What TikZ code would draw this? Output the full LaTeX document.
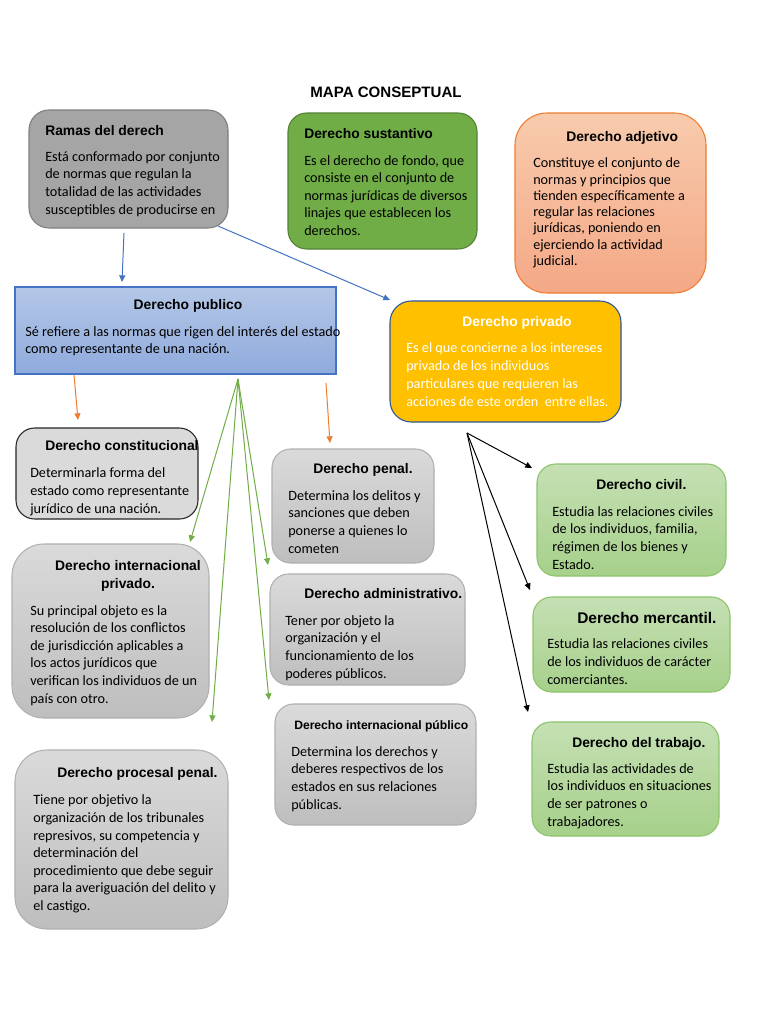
\documentclass[tikz,border=0pt]{standalone}
\usepackage{fontspec}
\setmainfont{Carlito}
\newfontfamily\hdfont{Liberation Sans}
\usetikzlibrary{fit,arrows.meta}
\definecolor{cgrey}{HTML}{A5A5A5}
\definecolor{cgreyb}{HTML}{7F7F7F}
\definecolor{cgreen}{HTML}{70AD47}
\definecolor{cgreenb}{HTML}{548235}
\definecolor{csalt}{HTML}{F8CBAD}
\definecolor{csalb}{HTML}{F4A886}
\definecolor{corange}{HTML}{ED7D31}
\definecolor{cbluet}{HTML}{B4C7E7}
\definecolor{cblueb}{HTML}{8FAADC}
\definecolor{cblue}{HTML}{4472C4}
\definecolor{cgold}{HTML}{FFC000}
\definecolor{cnavy}{HTML}{2F5597}
\definecolor{lgt}{HTML}{DADADA}
\definecolor{lgb}{HTML}{BEBEBE}
\definecolor{lgbord}{HTML}{B0B0B0}
\definecolor{lgnt}{HTML}{C5E0B4}
\definecolor{lgnb}{HTML}{A6D08A}
\definecolor{lgnbord}{HTML}{8CC46A}
\tikzset{
  boxbase/.style={inner sep=0pt, line width=0.8pt},
  greybox/.style={boxbase, fill=cgrey, draw=cgreyb, rounded corners=15pt},
  greenbox/.style={boxbase, fill=cgreen, draw=cgreenb, rounded corners=14pt},
  salbox/.style={boxbase, top color=csalt, bottom color=csalb, draw=corange, rounded corners=24pt},
  bluebox/.style={boxbase, top color=cbluet, bottom color=cblueb, draw=cblue},
  goldbox/.style={boxbase, fill=cgold, draw=cnavy, rounded corners=16pt},
  conbox/.style={boxbase, fill=lgt, draw=black!85, rounded corners=14pt},
  lgbox/.style={boxbase, top color=lgt, bottom color=lgb, draw=lgbord, rounded corners=14pt},
  lgboxr/.style={lgbox, rounded corners=24pt},
  lgnbox/.style={boxbase, top color=lgnt, bottom color=lgnb, draw=lgnbord, rounded corners=14pt},
  hd/.style={inner sep=0pt, anchor=base west, font=\hdfont\bfseries\fontsize{10.4}{12.8}\selectfont},
  hdc/.style={inner sep=0pt, anchor=base, align=center, font=\hdfont\bfseries\fontsize{10.4}{12.8}\selectfont},
  bd/.style={inner sep=0pt, anchor=base west, align=left, font=\fontsize{10.65}{13.2}\selectfont},
  ttl/.style={inner sep=0pt, anchor=base, font=\hdfont\bfseries\fontsize{11.3}{13}\selectfont},
  con/.style={line width=0.75pt, -{Triangle[length=5pt,width=4.5pt]}},
}
\begin{document}
\begin{tikzpicture}[x=0.75pt,y=-0.75pt]
\useasboundingbox (0,0) rectangle (768,1024);
\fill[white] (0,0) rectangle (768,1024);

\node[ttl] (title) at (386,98) {MAPA CONSEPTUAL};

% Ramas del derecho
\node[greybox, fit={(29,110) (228,228)}] (ramas) {};
\node[hd] (ramasT) at (45,135) {Ramas del derech};
\node[bd] (ramasB) at (45,214) {Está conformado por conjunto\\de normas que regulan la\\totalidad de las actividades\\susceptibles de producirse en};

% Derecho sustantivo
\node[greenbox, fit={(288,113) (477,249)}] (sust) {};
\node[hd] (sustT) at (304,138) {Derecho sustantivo};
\node[bd] (sustB) at (304,235.5) {Es el derecho de fondo, que\\consiste en el conjunto de\\normas jurídicas de diversos\\linajes que establecen los\\derechos.};

% Derecho adjetivo
\node[salbox, fit={(515,113) (706,293)}] (adj) {};
\node[hd] (adjT) at (566,142) {Derecho adjetivo};
\node[bd, font=\fontsize{10.65}{12.2}\selectfont] (adjB) at (533,265.5) {Constituye el conjunto de\\normas y principios que\\tienden específicamente a\\regular las relaciones\\jurídicas, poniendo en\\ejerciendo la actividad\\judicial.};

% Derecho publico
\node[bluebox, fit={(15,287) (336,374)}] (pub) {};
\node[hdc] (pubT) at (188,309) {Derecho publico};
\node[bd, font=\fontsize{10.65}{12.75}\selectfont] (pubB) at (25,353) {Sé refiere a las normas que rigen del interés del estado\\como representante de una nación.};

% Derecho privado
\node[goldbox, fit={(390,301) (621,422)}] (priv) {};
\node[hdc, text=white] (privT) at (517,326) {Derecho privado};
\node[bd, text=white, font=\fontsize{10.65}{13.5}\selectfont] (privB) at (406,406) {Es el que concierne a los intereses\\privado de los individuos\\particulares que requieren las\\acciones de este orden \ entre ellas.};

% Derecho constitucional
\node[conbox, fit={(16,428) (198,519)}] (const) {};
\node[hd] (constT) at (45,450) {Derecho constitucional};
\node[bd] (constB) at (30,513) {Determinarla forma del\\estado como representante\\jurídico de una nación.};

% Derecho penal
\node[lgbox, fit={(272,449) (434,563)}] (penal) {};
\node[hd] (penalT) at (313,473) {Derecho penal.};
\node[bd] (penalB) at (288,553) {Determina los delitos y\\sanciones que deben\\ponerse a quienes lo\\cometen};

% Derecho internacional privado
\node[lgboxr, fit={(12,544) (209,718)}] (intpriv) {};
\node[hdc] (intprivT) at (128,588) {Derecho internacional\\privado.};
\node[bd] (intprivB) at (30,703) {Su principal objeto es la\\resolución de los conflictos\\de jurisdicción aplicables a\\los actos jurídicos que\\verifican los individuos de un\\país con otro.};

% Derecho administrativo
\node[lgbox, fit={(270,574) (465,685)}] (admin) {};
\node[hd] (adminT) at (304,598) {Derecho administrativo.};
\node[bd] (adminB) at (285,678) {Tener por objeto la\\organización y el\\funcionamiento de los\\poderes públicos.};

% Derecho internacional publico
\node[lgbox, fit={(275,704) (476,825)}] (intpub) {};
\node[hd, font=\hdfont\bfseries\fontsize{9.1}{11}\selectfont] (intpubT) at (294,729) {Derecho internacional público};
\node[bd] (intpubB) at (291,809) {Determina los derechos y\\deberes respectivos de los\\estados en sus relaciones\\públicas.};

% Derecho procesal penal
\node[lgboxr, fit={(15,750) (228,929)}] (proc) {};
\node[hd] (procT) at (57,777) {Derecho procesal penal.};
\node[bd] (procB) at (33,910.5) {Tiene por objetivo la\\organización de los tribunales\\represivos, su competencia y\\determinación del\\procedimiento que debe seguir\\para la averiguación del delito y\\el castigo.};

% Derecho civil
\node[lgnbox, fit={(537,464) (726,576)}] (civil) {};
\node[hd] (civilT) at (596,489) {Derecho civil.};
\node[bd] (civilB) at (552,569) {Estudia las relaciones civiles\\de los individuos, familia,\\régimen de los bienes y\\Estado.};

% Derecho mercantil
\node[lgnbox, fit={(533,597) (730,692)}] (merc) {};
\node[hd, font=\hdfont\bfseries\fontsize{11.6}{13}\selectfont] (mercT) at (577,623) {Derecho mercantil.};
\node[bd] (mercB) at (547,684) {Estudia las relaciones civiles\\de los individuos de carácter\\comerciantes.};

% Derecho del trabajo
\node[lgnbox, fit={(532,722) (719,836)}] (trab) {};
\node[hd] (trabT) at (572,747) {Derecho del trabajo.};
\node[bd] (trabB) at (547,826) {Estudia las actividades de\\los individuos en situaciones\\de ser patrones o\\trabajadores.};

% connector end points
\coordinate (b1s) at (124,233); \coordinate (b1e) at (122,282);
\coordinate (b2s) at (218,226); \coordinate (b2e) at (390,300);
\coordinate (o1s) at (74,375);  \coordinate (o1e) at (78,420);
\coordinate (o2s) at (326,383); \coordinate (o2e) at (330,443);
\coordinate (gs) at (238,379);
\coordinate (g1) at (190,542); \coordinate (g2) at (268,565);
\coordinate (g3) at (212,722); \coordinate (g4) at (269,700);
\coordinate (ks) at (467,433);
\coordinate (k1) at (532,468); \coordinate (k2) at (530,590); \coordinate (k3) at (528,712);

\draw[con, cblue] (b1s) -- (b1e);
\draw[con, cblue] (b2s) -- (b2e);
\draw[con, corange] (o1s) -- (o1e);
\draw[con, corange] (o2s) -- (o2e);
\draw[con, cgreen] (gs) -- (g1);
\draw[con, cgreen] (gs) -- (g2);
\draw[con, cgreen] (gs) -- (g3);
\draw[con, cgreen] (gs) -- (g4);
\draw[con, black] (ks) -- (k1);
\draw[con, black] (ks) -- (k2);
\draw[con, black] (ks) -- (k3);
\end{tikzpicture}
\end{document}
